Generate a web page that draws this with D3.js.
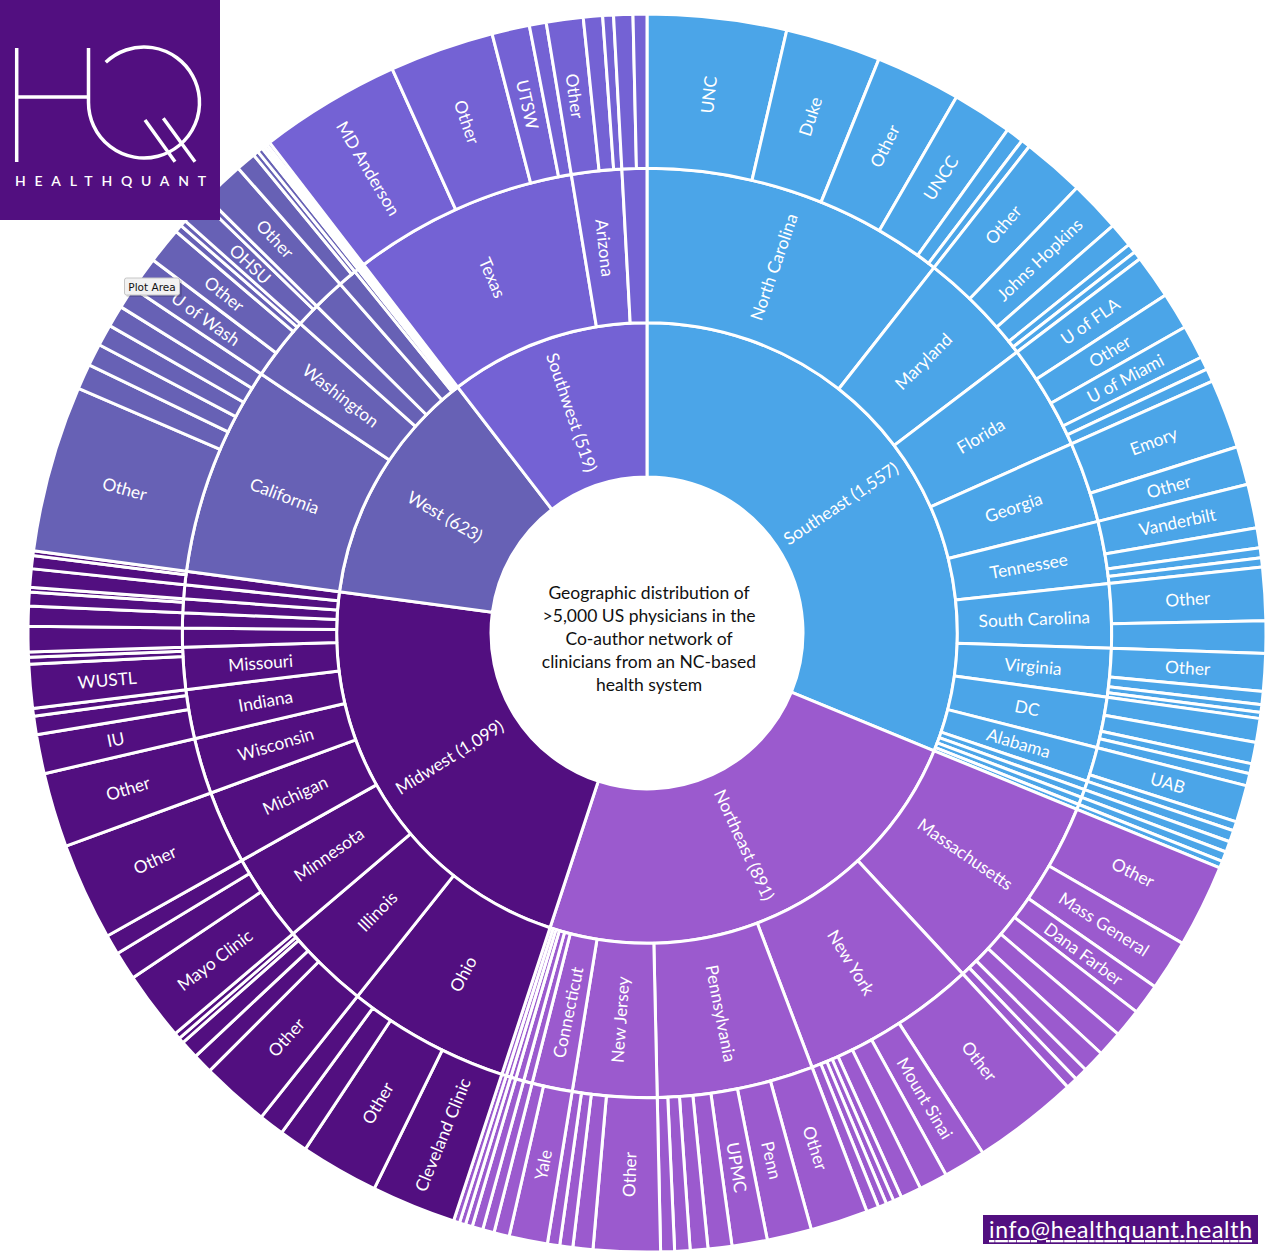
<!DOCTYPE html>
<html>
<head>
<meta charset="utf-8">
<script src="https://cdn.jsdelivr.net/npm/d3@7"></script>
<style>
html,body{margin:0;padding:0;background:#fff;}
svg{display:block;}
</style>
</head>
<body>
<svg id="chart" width="1269" height="1255"></svg>
<script>
// ---------- DATA ----------
const regionNames  = ["Southeast", "Northeast", "Midwest", "West", "Southwest"];
const regionLabels = ["Southeast (1,557)", "Northeast (891)", "Midwest (1,099)", "West (623)", "Southwest (519)"];
const regionColors = ["#4BA5E8", "#9B5ACE", "#520F80", "#6761B5", "#7462D4"];

// [stateId, region, label]
const states = [
  ["NC","Southeast","North Carolina"],["MD","Southeast","Maryland"],["FL","Southeast","Florida"],
  ["GA","Southeast","Georgia"],["TN","Southeast","Tennessee"],["SC","Southeast","South Carolina"],
  ["VA","Southeast","Virginia"],["DC","Southeast","DC"],["AL","Southeast","Alabama"],
  ["SE1","Southeast",""],["SE2","Southeast",""],["SE3","Southeast",""],["SE4","Southeast",""],
  ["MA","Northeast","Massachusetts"],["NY","Northeast","New York"],["PA","Northeast","Pennsylvania"],
  ["NJ","Northeast","New Jersey"],["CT","Northeast","Connecticut"],
  ["NE1","Northeast",""],["NE2","Northeast",""],["NE3","Northeast",""],["NE4","Northeast",""],["NE5","Northeast",""],
  ["OH","Midwest","Ohio"],["IL","Midwest","Illinois"],["MN","Midwest","Minnesota"],["MI","Midwest","Michigan"],
  ["WI","Midwest","Wisconsin"],["IN","Midwest","Indiana"],["MO","Midwest","Missouri"],
  ["MW1","Midwest",""],["MW2","Midwest",""],["MW3","Midwest",""],["MW4","Midwest",""],["MW5","Midwest",""],
  ["CA","West","California"],["WA","West","Washington"],["OR","West",""],
  ["W1","West",""],["W2","West",""],["W3","West",""],["W4","West",""],["W5","West",""],["W6","West",""],
  ["TX","Southwest","Texas"],["AZ","Southwest","Arizona"],["SW1","Southwest",""]
];

// [stateId, label, value]
const leaves = [
  ["NC","UNC",181],["NC","Duke",124],["NC","Other",111],["NC","UNCC",78],["NC","",23],["NC","",12],
  ["MD","Other",81],["MD","Johns Hopkins",67],["MD","",32],["MD","",12],["MD","",11],
  ["FL","U of FLA",57],["FL","Other",48],["FL","U of Miami",44],["FL","",17],["FL","",17],
  ["GA","Emory",90],["GA","Other",50],
  ["TN","Vanderbilt",57],["TN","",26],["TN","",13],["TN","",12],
  ["SC","Other",69],["SC","",42],
  ["VA","Other",49],["VA","",17],["VA","",10],["VA","",8],
  ["DC","",31],["DC","",28],["DC","",13],["DC","",16],
  ["AL","UAB",48],["AL","",12],
  ["SE1","",15],["SE2","",14],["SE3","",13],["SE4","",9],
  ["MA","Other",108],["MA","Mass General",66],["MA","Dana Farber",40],["MA","",37],["MA","",33],["MA","",29],["MA","",17],["MA","",15],
  ["NY","Other",138],["NY","Mount Sinai",55],["NY","",37],["NY","",27],["NY","",11],["NY","",10],["NY","",11],["NY","",16],
  ["PA","Other",75],["PA","Penn",58],["PA","UPMC",46],["PA","",31],["PA","",23],["PA","",20],["PA","",18],
  ["NJ","Other",87],["NJ","",26],["NJ","",17],["NJ","",16],
  ["CT","Yale",50],["CT","",20],
  ["NE1","",15],["NE2","",14],["NE3","",9],["NE4","",8],["NE5","",8],
  ["OH","Cleveland Clinic",110],["OH","Other",102],["OH","",37],["OH","",33],
  ["IL","Other",89],["IL","",26],["IL","",24],["IL","",7],["IL","",8],
  ["MN","Mayo Clinic",90],["MN","",37],["MN","",26],
  ["MI","Other",127],
  ["WI","Other",97],
  ["IN","IU",51],["IN","",24],["IN","",10],
  ["MO","WUSTL",57],["MO","",9],["MO","",7],
  ["MW1","",33],["MW2","",26],["MW3","",18],["MW3","",6],["MW4","",24],["MW5","",17],["MW5","",6],
  ["CA","Other",217],["CA","",33],["CA","",29],["CA","",28],["CA","",28],["CA","",29],
  ["WA","U of Wash",44],["WA","Other",47],["WA","",10],["WA","",8],
  ["OR","OHSU",33],["OR","",8],
  ["W1","Other",55],
  ["W2","",26],["W2","",7],
  ["W3","",7],["W4","",4],["W5","",4],["W6","",4],
  ["TX","MD Anderson",184],["TX","Other",136],["TX","UTSW",49],["TX","",22],
  ["AZ","Other",48],["AZ","",25],["AZ","",14],
  ["SW1","",25],["SW1","",18]
];

const centerLines = ["Geographic distribution of", ">5,000 US physicians in the", "Co-author network of", "clinicians from an NC-based", "health system"];

// ---------- BUILD HIERARCHY ----------
const rootData = {name:"root", children: regionNames.map((r,i)=>({name:r, label:regionLabels[i], color:regionColors[i], children:[]}))};
const regionMap = new Map(rootData.children.map(d=>[d.name,d]));
const stateMap = new Map();
states.forEach(([id,reg,label])=>{
  const n = {name:id, label:label, children:[]};
  regionMap.get(reg).children.push(n);
  stateMap.set(id,n);
});
leaves.forEach(([sid,label,v],i)=>{
  stateMap.get(sid).children.push({name:sid+"_"+i, label:label, value:v});
});

const root = d3.hierarchy(rootData).sum(d=>d.value||0);
d3.partition().size([2*Math.PI, 1])(root);

const cx = 647, cy = 633;
const rScale = d3.scaleLinear().domain([0,3]).range([156,619]);

const svg = d3.select("#chart");
const g = svg.append("g").attr("transform",`translate(${cx},${cy})`);

const arc = d3.arc()
  .startAngle(d=>d.x0).endAngle(d=>d.x1)
  .innerRadius(d=>rScale(d.depth-1)).outerRadius(d=>rScale(d.depth));

const nodes = root.descendants().filter(d=>d.depth>0);
const colorOf = d=>{ let n=d; while(n.depth>1) n=n.parent; return n.data.color; };

g.selectAll("path.slice").data(nodes).join("path")
  .attr("class","slice")
  .attr("d",arc)
  .attr("fill",colorOf)
  .attr("stroke","#fff")
  .attr("stroke-width",3)
  .attr("stroke-linejoin","round");

// labels (perpendicular / radial)
const labelled = nodes.filter(d=>d.data.label);
g.selectAll("text.lbl").data(labelled).join("text")
  .attr("class","lbl")
  .attr("transform",d=>{
    const a=(d.x0+d.x1)/2, r=(rScale(d.depth-1)+rScale(d.depth))/2;
    const deg=a*180/Math.PI;
    const rot = deg<=180 ? deg-90 : deg-270;
    return `translate(${r*Math.sin(a)},${-r*Math.cos(a)}) rotate(${rot})`;
  })
  .attr("text-anchor","middle")
  .attr("dominant-baseline","central")
  .attr("fill","#fff")
  .style("font-family","Lato, 'Open Sans', sans-serif")
  .style("font-size","17.3px")
  .text(d=>d.data.label);

// center text
g.append("g").selectAll("text").data(centerLines).join("text")
  .attr("x",2).attr("y",(d,i)=>-41+i*23.2)
  .attr("text-anchor","middle").attr("dominant-baseline","central")
  .attr("fill","#111")
  .style("font-family","Lato, 'Open Sans', sans-serif")
  .style("font-size","17.5px")
  .text(d=>d);

// ---------- LOGO ----------
const logo = svg.append("g");
logo.append("rect").attr("x",0).attr("y",0).attr("width",220).attr("height",220).attr("fill","#520F80");
const lp = d3.path();
lp.moveTo(16.7,48); lp.lineTo(16.7,162);
lp.moveTo(16.7,97); lp.lineTo(88,97);
const qc=[144,102.5], qr=55.5;
const a0 = -Math.PI/2 - 0.76;
lp.moveTo(qc[0]+qr*Math.cos(a0), qc[1]+qr*Math.sin(a0));
lp.arc(qc[0],qc[1],qr,a0,Math.PI,false);
lp.moveTo(88.5,48); lp.lineTo(88.5,102.5);
lp.moveTo(145,120); lp.lineTo(175,161.7);
lp.moveTo(163.3,118.3); lp.lineTo(195,161.7);
logo.append("path").attr("d",lp.toString()).attr("fill","none").attr("stroke","#fff").attr("stroke-width",3.5);
logo.append("text").attr("x",15).attr("y",186)
  .attr("textLength",191).attr("lengthAdjust","spacing")
  .attr("fill","#fff").style("font-family","Lato, sans-serif").style("font-size","14px").style("font-weight","600")
  .text("HEALTHQUANT");

// ---------- TOOLTIP ARTIFACT ----------
const tip = svg.append("g");
tip.append("rect").attr("x",126).attr("y",280).attr("width",56).attr("height",17).attr("fill","rgba(0,0,0,0.15)").attr("rx",2);
tip.append("rect").attr("x",124.5).attr("y",278).attr("width",55).attr("height",17).attr("fill","#f2f2f2").attr("stroke","#c6c6c6").attr("rx",2);
tip.append("text").attr("x",152).attr("y",287).attr("text-anchor","middle").attr("dominant-baseline","central")
  .attr("fill","#111").style("font-family","'DejaVu Sans', sans-serif").style("font-size","10.5px").text("Plot Area");

// ---------- EMAIL ----------
svg.append("rect").attr("x",983).attr("y",1215).attr("width",275).attr("height",29).attr("fill","#520F80");
svg.append("text").attr("x",989).attr("y",1238)
  .attr("textLength",263).attr("lengthAdjust","spacing")
  .attr("fill","#fff").style("font-family","Lato, sans-serif").style("font-size","23px")
  .style("text-decoration","underline")
  .text("info@healthquant.health");
</script>
</body>
</html>
